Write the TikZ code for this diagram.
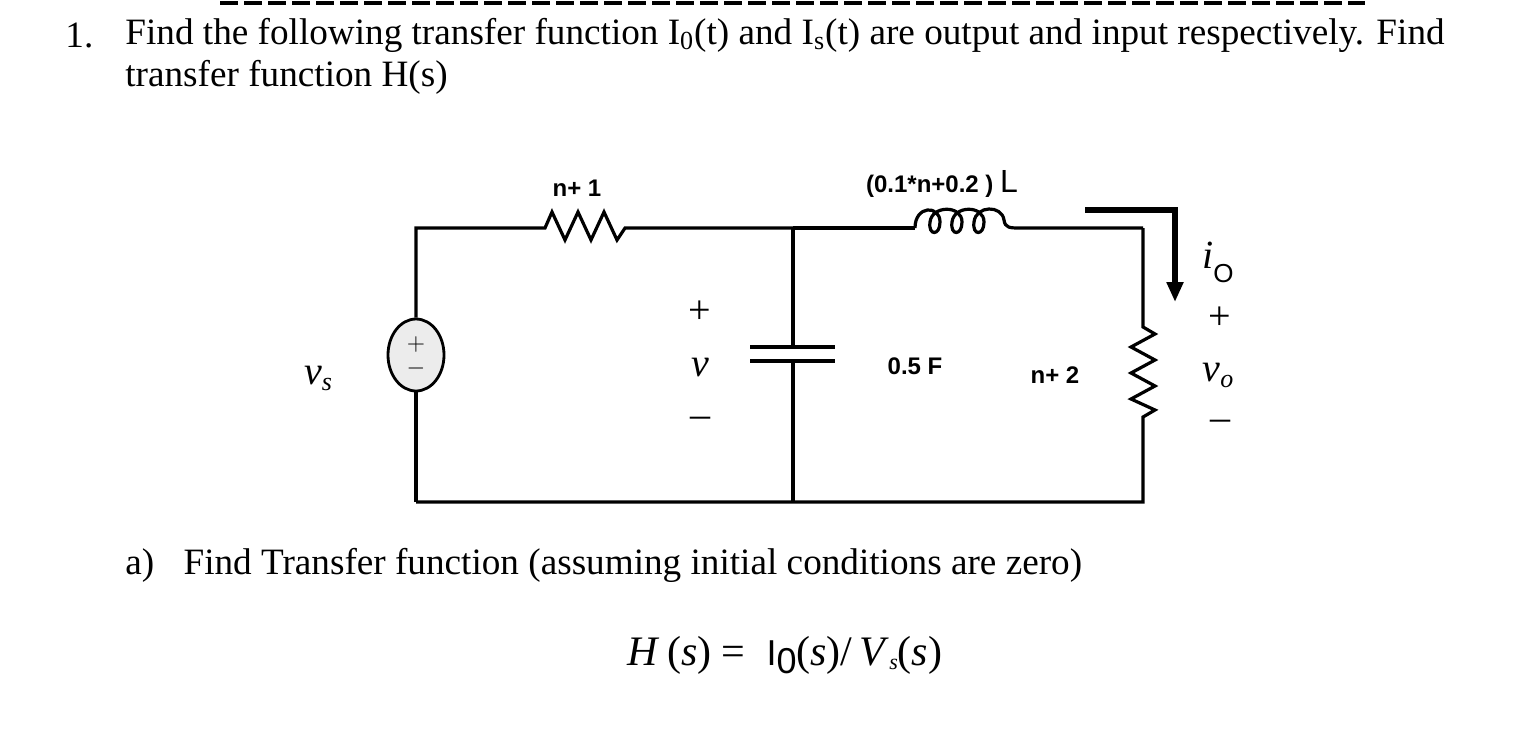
\documentclass[tikz,border=0pt]{standalone}
\usepackage{fontspec}
\setmainfont{Liberation Serif}
\newfontfamily\ssf{Liberation Sans}
\usetikzlibrary{arrows.meta,shapes.geometric}
\begin{document}
\begin{tikzpicture}[x=0.5pt,y=-0.5pt,
  wire/.style={line width=1.6pt},
  ttl/.style={font=\fontsize{18.6}{20}\selectfont,anchor=west,inner sep=0},
  lbl/.style={font=\ssf\bfseries\fontsize{12}{14}\selectfont,inner sep=0},
  sym/.style={font=\fontsize{20}{20}\selectfont,inner sep=0}]
\useasboundingbox (0,0) rectangle (1536,744);
\draw[line width=2pt,dash pattern=on 9pt off 3pt] (220,3) -- (1365,3);
\node[ttl] (n1) at (65,35) {1.};
\node[ttl] (t1) at (125,35) {Find the following transfer function I\textsubscript{0}(t) and I\textsubscript{s}(t) are output and input respectively. Find};
\node[ttl] (t2) at (125,77) {transfer function H(s)};
% nodes
\coordinate (TL) at (416,228); \coordinate (BL) at (416,502);
\coordinate (TM) at (793,228); \coordinate (BM) at (793,502);
\coordinate (TR) at (1143,228); \coordinate (BR) at (1143,502);
% source
\node[draw,line width=1.4pt,fill=gray!15,ellipse,minimum width=28pt,minimum height=36pt,inner sep=0] (src) at (416,355) {};
\node[font=\fontsize{13}{13}\selectfont,inner sep=0] (sp) at (416,344) {$+$};
\node[font=\fontsize{13}{13}\selectfont,inner sep=0] (sm) at (416,368) {$-$};
\draw[wire] (BL) -- (src.south);
\draw[wire] (src.north) -- (TL) -- (545,228) -- (552,212) -- (565,240) -- (578,212) -- (591,240) -- (604,212) -- (617,240) -- (625,228) -- (TM);
\draw[wire] (TM) -- (915,228);
\draw[wire] (915,228) .. controls (915,205) and (940,205) .. (940,222) .. controls (940,236) and (928,236) .. (930,222)
 .. controls (932,205) and (962,205) .. (962,222) .. controls (962,236) and (950,236) .. (952,222)
 .. controls (954,205) and (984,205) .. (984,222) .. controls (984,236) and (972,236) .. (974,222)
 .. controls (976,205) and (1002,205) .. (1004,220) .. controls (1005,228) and (1010,228) .. (1020,228) -- (TR);
\draw[wire] (TR) -- (1143,327) -- (1155,334) -- (1131,347) -- (1155,360) -- (1131,373) -- (1155,386) -- (1131,399) -- (1155,410) -- (1143,417) -- (BR) -- (BL);
\draw[wire] (TM) -- (793,347); \draw[wire] (793,361) -- (BM);
\draw[line width=2.2pt] (750,347) -- (835,347); \draw[line width=2.2pt] (750,361) -- (835,361);
% arrow
\draw[line width=3pt,-{Triangle[length=10pt,width=8pt]}] (1085,210) -- (1175,210) -- (1175,302);
% labels
\node[lbl] (r1) at (577,188) {n+ 1};
\node[lbl] (lL) at (942,184) {(0.1*n+0.2 ) {\mdseries\fontsize{16}{16}\selectfont L}};
\node[lbl] (cap) at (915,366) {0.5 F};
\node[lbl] (r2) at (1055,375) {n+ 2};
\node[sym] (io) at (1218,262) {\textit{i}\raisebox{-7pt}{\ssf\fontsize{13}{13}\selectfont O}};
\node[sym] (vp) at (1220,318) {+};
\node[sym] (vo) at (1218,375) {\textit{v}\raisebox{-3pt}{\fontsize{13}{13}\selectfont\textit{o}}};
\node[sym] (vm) at (1220,425) {--};
\node[sym] (cp) at (700,312) {+};
\node[sym] (cv) at (700,368) {\textit{v}};
\node[sym] (cm) at (700,422) {--};
\node[sym] (vs) at (318,378) {\textit{v}\raisebox{-3pt}{\fontsize{13}{13}\selectfont\textit{s}}};
\node[ttl] (a) at (125,565) {a)\hspace{10pt} Find Transfer function (assuming initial conditions are zero)};
\node[font=\fontsize{21}{22}\selectfont,inner sep=0] (H) at (785,655) {\textit{H}\,(\textit{s}) = \ {\ssf\fontsize{18}{18}\selectfont I\raisebox{-4pt}{0}}(\textit{s})/\,\textit{V}\raisebox{-2pt}{\fontsize{11}{11}\selectfont\textit{s}}(\textit{s})};
\end{tikzpicture}
\end{document}
